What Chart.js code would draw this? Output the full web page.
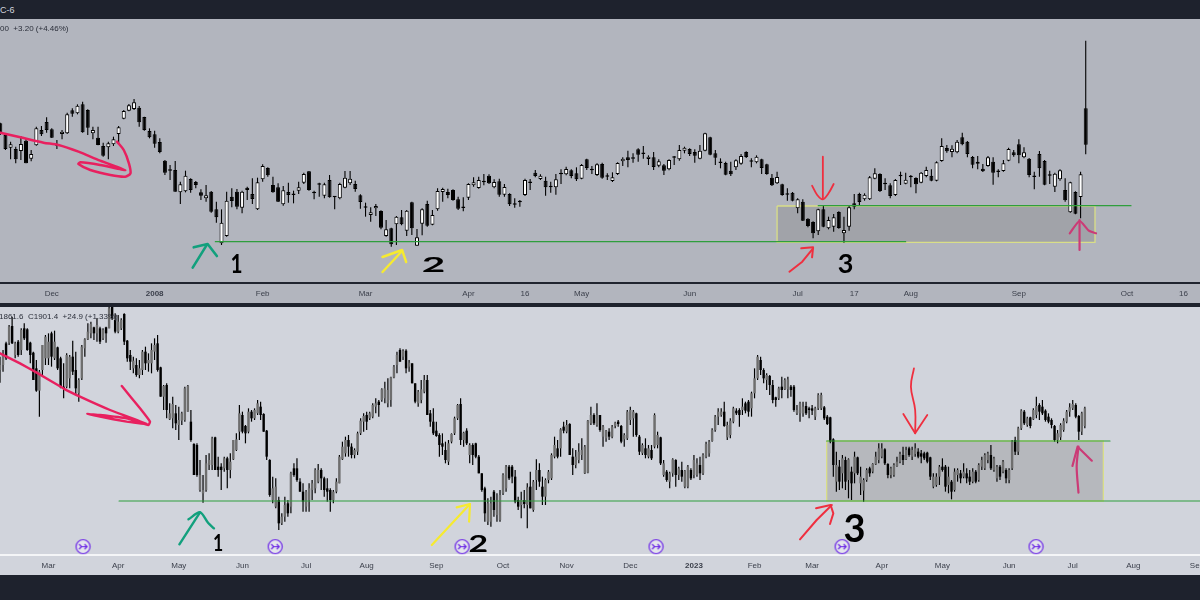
<!DOCTYPE html>
<html>
<head>
<meta charset="utf-8">
<title>Double bottom comparison</title>
<script src="https://cdn.jsdelivr.net/npm/chart.js@4/dist/chart.umd.min.js"></script>
<style>
    html, body { margin: 0; padding: 0; width: 1200px; height: 600px; overflow: hidden; background: #1e222d; }
    .panel { position: absolute; left: 0; width: 1200px; overflow: hidden; }
    #top-panel { top: 19px; height: 284px; background: #b2b5be; }
    #bottom-panel { top: 307px; height: 268px; background: #d1d4dc; }
    canvas { position: absolute; left: 0; }
    #top-chart { top: 1px; }
    #bottom-chart { top: 0; }
    .caption { position: absolute; font: 8px "Liberation Sans", sans-serif; white-space: pre; line-height: 10px; color: #2a2e39; }
</style>
</head>
<body>
<div class="caption" style="left:0;top:5px;color:#d1d4dc;font-size:9px">C-6</div>
<div class="panel" id="top-panel"><canvas id="top-chart" width="1240" height="283"></canvas></div>
<div class="panel" id="bottom-panel"><canvas id="bottom-chart" width="1240" height="268"></canvas></div>
<div class="caption" style="left:0;top:24px">00  +3.20 (+4.46%)</div>
<div class="caption" style="left:-1px;top:312px">1861.6  C1901.4  +24.9 (+1.33%)</div>
<script>
// Top chart: daily candles (no price axis visible, so relative units)
const topOpen = [
    479,444,406,402,396,427,373,413,459,483, 461,416,447,449,518,509,536,519,449,436,
    411,407,416,447,493,517,522,526,498,456, 446,423,367,338,339,272,275,312,303,272,
    254,274,221,119,141,259,274,226,286,267, 221,311,345,294,287,236,273,266,277,301,
    335,272,299,262,309,259,254,286,299,297, 263,228,204,224,216,141,164,176,197,157,
    242,112,178,237,175,221,273,273,279,251, 228,256,293,285,304,322,287,305,265,267,
    237,242,264,303,331,312,307,289,287,328, 326,338,329,313,371,340,324,357,321,306,
    327,365,377,375,401,390,372,377,352,353, 341,377,371,397,402,393,373,397,437,389,
    362,360,337,347,358,393,366,362,371,356, 316,299,296,267,271,224,244,193,183,155,
    221,164,169,213,149,169,239,267,251,251, 313,327,299,293,264,323,298,319,315,301,
    321,322,307,366,405,393,392,437,424,378, 364,343,351,364,336,336,367,392,416,377,
    373,321,387,366,324,289,311,279,212,273,258,524
];
const topHigh = [
    481,449,424,409,441,434,399,469,471,497, 464,429,459,511,524,536,544,521,469,469,
    421,424,439,471,519,537,552,531,499,464, 457,434,369,354,366,304,337,314,306,281,
    294,276,244,221,274,284,282,277,289,314, 316,356,347,319,299,291,301,277,304,331,
    336,277,301,301,324,261,301,336,336,307, 266,241,227,237,218,189,166,201,219,219,
    244,162,224,247,219,284,286,283,281,259, 257,299,317,319,327,326,311,313,297,269,
    254,249,313,312,339,326,319,304,327,341, 349,341,347,357,373,351,359,361,329,332,
    362,377,397,389,404,411,383,393,371,357, 371,381,414,409,404,401,414,451,439,399,
    374,364,364,371,387,395,374,383,373,358, 327,334,298,284,273,254,251,194,185,223,
    234,199,207,215,199,231,267,271,269,321, 344,329,314,299,312,334,331,324,317,333,
    349,341,365,434,414,413,429,451,426,381, 381,357,381,377,341,369,406,399,431,407,
    375,334,396,369,337,331,341,314,304,275,334,727
];
const topLow = [
    444,399,371,359,369,359,365,412,441,451, 435,402,431,447,499,506,451,444,431,413,
    379,371,411,419,491,515,519,469,457,434, 406,389,324,309,274,237,272,271,284,249,
    244,211,181,114,139,227,221,209,249,237, 219,304,319,271,243,232,241,239,267,297,
    277,251,259,254,256,221,251,284,294,274, 223,199,184,201,161,139,109,114,173,141,
    144,112,143,169,173,217,244,254,247,219, 215,249,289,283,293,297,284,259,259,231,
    226,229,261,279,317,309,262,271,265,297, 323,314,306,311,339,327,321,313,309,303,
    324,351,347,361,364,373,354,339,347,324, 338,354,367,389,381,361,371,395,383,354,
    344,323,321,339,355,375,347,359,327,325, 291,297,262,247,245,209,186,167,134,144,
    167,161,154,163,121,157,221,234,247,249, 311,273,279,254,261,294,296,287,269,299,
    317,305,305,364,391,377,389,413,377,344, 341,333,349,295,317,334,365,379,359,374,
    317,281,319,293,297,273,307,244,211,206,194,386
];
const topClose = [
    449,402,416,371,417,359,387,464,446,459, 436,412,454,506,508,532,452,466,459,414,
    382,419,431,467,516,533,542,482,459,437, 418,393,331,337,274,296,322,279,294,262,
    263,214,197,181,247,246,229,274,279,252, 302,351,323,272,244,278,264,264,287,327,
    279,269,295,296,257,257,297,316,313,282, 243,226,212,231,166,161,116,199,176,217,
    164,137,221,172,204,276,282,264,249,223, 225,297,302,309,302,299,303,265,288,236,
    235,247,309,300,321,322,287,287,311,326, 342,321,311,354,345,338,356,316,319,317,
    360,373,369,373,385,387,379,348,365,337, 369,376,399,406,387,382,397,449,385,376,
    360,325,326,368,381,378,364,379,345,327, 293,318,264,265,247,251,187,171,149,221,
    169,189,197,165,159,227,229,243,265,317, 329,276,296,261,309,320,310,317,296,331,
    339,307,362,411,395,403,424,416,387,355, 358,335,377,331,333,359,402,383,383,392,
    324,318,344,295,322,328,338,248,302,208,326,415
];
const topTickIndex = [10, 30, 51, 71, 91, 102, 113, 134, 155, 166, 177, 198, 219, 230];
const topTickLabels = ['Dec', '2008', 'Feb', 'Mar', 'Apr', '16', 'May', 'Jun', 'Jul', '17', 'Aug', 'Sep', 'Oct', '16'];

// Bottom chart: daily candles
const botOpen = [
    555,570,635,637,687,600,640,615,680,677, 637,607,560,493,555,590,590,665,590,623,
    590,505,505,530,595,555,485,530,620,647, 665,683,665,680,650,683,680,745,705,670,
    680,723,643,600,560,570,540,555,610,575, 575,610,635,563,475,510,407,410,425,390,
    403,405,430,400,333,330,195,185,195,270, 270,353,265,265,260,290,255,287,315,370,
    420,387,370,430,410,425,445,423,373,285, 165,145,165,95,115,155,145,260,260,220,
    190,145,165,195,200,220,255,230,200,195, 165,190,215,287,305,345,325,300,310,365,
    400,420,410,415,445,460,465,470,455,465, 533,570,615,595,613,565,575,515,455,465,
    490,525,425,400,373,360,335,315,280,340, 365,410,453,345,373,300,330,335,295,245,
    200,100,100,190,120,105,185,200,265,265, 235,165,150,165,150,205,135,225,255,205,
    175,225,230,295,320,320,385,370,393,295, 270,285,300,245,247,395,420,390,420,355,
    350,370,355,387,400,387,347,350,405,410, 425,355,305,320,295,315,325,330,353,240,
    250,220,245,285,240,255,205,205,255,240, 240,270,245,295,305,342,375,415,420,430,
    353,360,400,433,435,435,455,460,440,485, 530,585,555,525,537,510,473,470,505,497,
    497,505,505,425,425,425,447,440,440,415, 440,440,443,415,413,347,220,265,245,285,
    225,250,245,293,215,193,225,260,250,272, 285,295,317,273,240,240,267,280,300,287,
    320,295,303,310,305,305,307,293,205,210, 235,265,265,210,220,195,240,245,235,245,
    235,220,250,225,265,260,285,300,255,230, 265,250,255,225,260,345,310,380,430,390,
    413,407,420,450,445,433,415,405,387,345, 353,375,400,430,440,450,417,370,387
];
const botHigh = [
    595,615,640,690,715,640,645,680,695,680, 640,610,585,555,630,660,665,670,673,625,
    595,575,605,600,643,610,530,630,650,695, 700,685,710,685,680,685,745,745,725,720,
    710,725,645,615,595,590,585,615,625,605, 635,650,660,565,510,515,455,475,450,445,
    430,505,510,435,335,335,285,240,300,305, 355,355,295,275,295,295,305,345,365,450,
    430,390,440,435,440,465,460,425,375,287, 235,230,175,125,175,165,250,275,290,230,
    215,195,215,225,260,273,260,235,230,200, 195,230,300,340,355,360,335,320,370,410,
    425,430,430,455,470,465,500,520,530,535, 570,610,620,617,617,585,575,515,495,525,
    540,540,435,440,400,365,365,340,345,365, 415,453,470,370,380,335,335,337,300,245,
    205,170,175,195,185,195,245,270,270,270, 255,175,190,195,215,250,225,287,275,235,
    230,255,305,355,345,380,400,405,395,320, 315,335,350,330,405,445,425,455,420,390,
    375,380,390,400,405,390,365,435,445,435, 427,360,335,350,330,330,425,370,355,285,
    255,250,290,287,265,280,255,270,260,300, 290,295,305,340,345,380,420,440,440,460,
    400,410,445,440,440,470,460,465,490,560, 600,595,560,545,540,525,475,505,535,530,
    535,510,510,450,460,460,460,445,450,445, 485,487,447,420,415,350,310,285,300,295,
    290,265,310,295,265,230,260,265,275,310, 335,335,320,275,265,275,295,310,325,325,
    325,325,335,320,315,310,310,295,245,245, 270,290,270,265,225,260,260,255,275,260,
    255,260,255,275,295,305,310,330,295,270, 270,285,260,260,345,355,385,437,435,415,
    415,440,475,455,465,437,425,410,390,375, 395,410,435,455,465,455,420,430,445
];
const botLow = [
    517,550,585,630,633,590,595,600,645,613, 575,525,490,415,535,570,570,565,585,555,
    500,470,500,500,540,480,460,525,595,645, 650,645,640,633,645,637,680,705,665,665,
    675,630,580,555,545,535,530,540,555,550, 545,585,550,475,435,410,405,380,375,345,
    390,400,430,340,240,235,190,157,190,255, 255,255,235,195,250,200,230,285,312,345,
    365,335,365,400,405,420,405,370,285,175, 155,140,75,90,100,115,125,235,220,190,
    130,130,130,165,185,215,195,175,160,130, 155,185,215,285,295,295,290,290,300,360,
    370,375,405,410,425,415,460,455,443,445, 530,545,580,585,545,550,515,455,445,455,
    485,420,385,360,355,295,300,275,270,335, 360,405,330,325,330,275,270,290,245,190,
    100,90,85,115,100,100,180,190,225,215, 155,135,110,140,80,140,130,195,205,150,
    150,215,225,290,290,295,365,365,300,240, 260,275,285,243,245,390,390,385,370,325,
    340,345,350,380,385,335,325,345,390,355, 355,300,300,290,290,285,320,320,270,235,
    220,200,235,205,225,220,200,200,225,230, 235,225,240,290,295,340,370,390,415,385,
    345,350,395,420,385,420,425,415,415,470, 525,540,515,495,480,455,445,465,470,495,
    470,475,430,420,400,415,420,410,420,405, 435,435,405,390,335,235,190,195,200,195,
    170,165,215,240,180,160,220,235,245,270, 275,290,270,230,230,235,265,275,270,285,
    295,285,295,290,275,285,275,225,200,205, 210,250,190,185,167,190,220,215,230,215,
    210,215,215,220,255,255,275,255,250,220, 225,245,215,215,255,300,300,375,390,385,
    380,405,410,405,420,400,395,380,340,335, 345,370,395,415,435,410,345,360,380
];
const botClose = [
    570,600,590,685,635,635,600,675,650,615, 600,525,493,550,630,655,640,595,640,560,
    503,500,600,595,550,500,525,625,647,670, 693,665,690,640,675,665,740,710,670,700,
    705,640,590,580,583,540,560,610,575,585, 615,630,555,475,507,435,425,453,395,405,
    425,500,507,345,240,240,240,195,275,285, 350,255,255,255,290,255,280,345,347,425,
    370,365,430,410,435,455,420,370,295,180, 200,205,95,115,150,125,245,240,225,190,
    160,190,200,215,255,255,230,195,190,165, 190,220,295,325,345,325,300,315,365,403,
    417,400,425,450,455,450,497,500,495,533, 565,600,580,612,560,577,515,460,490,497,
    525,420,400,365,357,330,325,285,335,363, 410,450,345,367,335,330,300,295,245,195,
    125,155,155,135,160,180,240,265,230,235, 160,145,165,153,203,140,220,255,220,175,
    225,250,300,330,295,377,373,390,300,270, 295,310,315,325,403,420,395,420,375,385,
    373,355,385,397,393,340,360,430,435,430, 360,310,330,300,320,290,420,360,275,275,
    225,245,287,240,260,235,253,265,230,285, 275,245,300,333,340,375,415,430,430,387,
    390,403,440,425,420,445,433,430,485,530, 595,555,530,540,510,465,465,500,495,525,
    527,495,435,435,455,445,425,435,433,440, 480,480,410,393,340,270,270,220,290,220,
    287,215,295,245,235,225,255,245,273,295, 320,320,275,240,260,270,280,303,285,315,
    300,315,320,295,295,290,280,235,235,235, 265,255,205,235,190,250,255,230,250,230,
    220,250,220,270,285,300,305,260,290,265, 235,280,230,255,340,310,380,433,395,410,
    387,435,447,430,425,405,400,390,345,365, 390,403,430,443,453,415,370,425,440
];
const botTickIndex = [16, 39, 59, 80, 101, 121, 144, 166, 187, 208, 229, 249, 268, 291, 311, 333, 354, 374, 395];
const botTickLabels = ['Mar', 'Apr', 'May', 'Jun', 'Jul', 'Aug', 'Sep', 'Oct', 'Nov', 'Dec', '2023', 'Feb', 'Mar', 'Apr', 'May', 'Jun', 'Jul', 'Aug', 'Sep'];
const eventIndex = [27.4, 90.8, 152.5, 216.5, 277.9, 341.9];

// Hand drawn marks, in the same bar index / value units as the candles
const topSupport = [[41.8, 124], [176, 124]];
const topResistance = [[159, 232], [219.8, 232]];
const topBox = [[151, 231], [212.8, 231], [212.8, 122], [151, 122], [151, 231]];
const topPinkSwoosh = [[0, 451], [3.9, 437], [8.4, 421], [11.3, 414], [15.2, 394], [19.4, 367], [24.3, 339], [19.4, 354], [15.6, 362], [15.2, 357], [17.5, 339], [21.4, 324], [24.3, 319], [25.3, 329], [25, 359], [24, 399], [22.7, 424]];
const topTealArrow = [[37.4, 46], [40.2, 116]];
const topTealHead = [[37.6, 107], [40.3, 117], [42.1, 81]];
const topYellowArrow = [[74.3, 33], [78.1, 96]];
const topYellowHead = [[74.3, 78], [78.1, 99], [78.9, 63]];
const topRedUpArrow = [[153.4, 34], [155.9, 64], [158, 104]];
const topRedUpHead = [[155.7, 104], [158, 107], [157.8, 77]];
const topRedDownArrow = [[159.9, 379], [159.9, 254]];
const topRedDownHead = [[157.8, 292], [158.8, 264], [159.9, 251], [161, 269], [162, 297]];
const topPinkArrow = [[209.8, 99], [209.8, 189]];
const topPinkHead = [[207.9, 149], [209.8, 186], [211.6, 157], [213, 149]];

const botSupport = [[39.3, 162], [409, 162]];
const botResistance = [[272.8, 342], [366.3, 342]];
const botBox = [[272.8, 342], [364.1, 342], [364.1, 162], [272.8, 162], [272.8, 342]];
const botPinkSwoosh = [[0, 605], [6.6, 575], [12.1, 547], [20.9, 500], [26.4, 475], [36.3, 435], [48.4, 393], [41.8, 400], [33, 415], [28.8, 423], [33, 420], [41.8, 410], [49, 390], [49.5, 400], [46.2, 440], [40.2, 507]];
const botTealArrow = [[59.2, 32], [66, 128]];
const botTealHead = [[62.2, 107], [66, 128], [68.8, 95], [70.6, 80]];
const botYellowArrow = [[142.5, 30], [155.1, 153]];
const botYellowHead = [[150.7, 143], [155.1, 153], [154.8, 100]];
const botRedUpArrow = [[264, 47], [269.5, 105], [274.5, 150]];
const botRedUpHead = [[269.3, 140], [274.1, 150], [275, 125], [273.9, 93]];
const botRedDownArrow = [[301.6, 560], [300.6, 505], [302, 435], [302, 365]];
const botRedDownHead = [[298.1, 423], [302, 365], [306, 420]];
const botPinkArrow = [[355.9, 187], [355.3, 265], [355.9, 325]];
const botPinkHead = [[353.9, 267], [355.6, 325], [360.3, 283]];

// Handwritten digits as real text: text, bar index, value, size, horizontal stretch
const topDigits = [['1', 45.9, 55, 26, 0.8], ['2', 84.2, 52, 27, 1.5], ['3', 164.3, 56, 27, 1]];
const botDigits = [['1', 72, 34, 22, 0.8], ['2', 157.8, 31, 26, 1.3], ['3', 282, 75, 38, 1]];

const PINK = '#e8205f';
const TEAL = '#12a07d';
const YELLOW = '#f6ea30';
const RED = '#ef2f3f';
const MAUVE = '#cb3b76';
const GREEN = '#2f9e3d';

function toPoints(pairs) {
    return pairs.map((p) => ({ x: p[0], y: p[1] }));
}

// A stroke drawn over the chart
function stroke(pairs, color, width, tension) {
    return {
        type: 'line',
        data: toPoints(pairs),
        borderColor: color,
        borderWidth: width,
        borderCapStyle: 'round',
        borderJoinStyle: 'round',
        pointRadius: 0,
        tension: tension || 0,
        order: 1
    };
}

// Yellow edged grey rectangle, kept under the candles
function zoneBox(pairs) {
    return {
        type: 'line',
        data: toPoints(pairs),
        borderColor: '#d9de88',
        borderWidth: 1.3,
        backgroundColor: 'rgba(128, 128, 128, 0.33)',
        fill: 'shape',
        pointRadius: 0,
        order: 7
    };
}

// Small purple circle with arrow used for the event markers
function makeEventIcon() {
    const icon = document.createElement('canvas');
    icon.width = 17;
    icon.height = 17;
    const c = icon.getContext('2d');
    c.strokeStyle = '#6a24e6';
    c.fillStyle = '#e4e6ec';
    c.lineWidth = 1.2;
    c.beginPath();
    c.arc(8.5, 8.5, 7, 0, Math.PI * 2);
    c.fill();
    c.stroke();
    c.beginPath();
    c.moveTo(4.5, 6);
    c.lineTo(7, 8.5);
    c.lineTo(4.5, 11);
    c.moveTo(6, 8.5);
    c.lineTo(12.5, 8.5);
    c.moveTo(10, 6);
    c.lineTo(12.5, 8.5);
    c.lineTo(10, 11);
    c.stroke();
    return icon;
}

// Writes the handwritten digits at their chart position
const digitPlugin = {
    id: 'digits',
    afterDatasetsDraw(chart, args, opts) {
        const ctx = chart.ctx;
        ctx.save();
        ctx.fillStyle = '#000';
        ctx.textAlign = 'center';
        ctx.textBaseline = 'middle';
        opts.items.forEach((d) => {
            ctx.save();
            ctx.translate(chart.scales.x.getPixelForValue(d[1]), chart.scales.y.getPixelForValue(d[2]));
            ctx.scale(d[4], 1 / Math.max(d[4] * 0.85, 1));
            ctx.font = 'bold ' + d[3] + 'px "Lato", "Liberation Sans", sans-serif';
            ctx.fillText(d[0], 0, 0);
            ctx.restore();
        });
        ctx.restore();
    }
};

function buildCandleChart(canvasId, cfg) {
    const wicks = cfg.low.map((l, i) => ({ x: i, y: [l, cfg.high[i]] }));
    const bodies = cfg.open.map((o, i) => ({ x: i, y: [Math.min(o, cfg.close[i]), Math.max(o, cfg.close[i])] }));
    const bodyColors = cfg.open.map((o, i) => (cfg.close[i] >= o ? cfg.upColor : '#000000'));

    return new Chart(document.getElementById(canvasId), {
        type: 'bar',
        data: {
            datasets: cfg.marks.concat([
                {
                    data: bodies,
                    grouped: false,
                    barThickness: cfg.bodyWidth,
                    maxBarThickness: cfg.bodyWidth,
                    minBarLength: 1.5,
                    backgroundColor: bodyColors,
                    borderColor: '#000000',
                    borderWidth: cfg.bodyBorder,
                    borderSkipped: false,
                    inflateAmount: 0,
                    order: 5
                },
                {
                    data: wicks,
                    grouped: false,
                    barThickness: cfg.wickWidth,
                    maxBarThickness: cfg.wickWidth,
                    backgroundColor: '#000000',
                    borderWidth: 0,
                    inflateAmount: 0,
                    order: 6
                }
            ])
        },
        options: {
            responsive: false,
            animation: false,
            layout: { padding: 0, autoPadding: false },
            plugins: {
                legend: { display: false },
                tooltip: { enabled: false },
                digits: { items: cfg.digits }
            },
            scales: {
                x: {
                    type: 'linear',
                    offset: false,
                    min: cfg.xMin,
                    max: cfg.xMax,
                    afterBuildTicks: (axis) => {
                        axis.ticks = cfg.tickIndex.map((v) => ({ value: v }));
                    },
                    afterFit: (axis) => {
                        axis.height = 20;
                    },
                    grid: { display: false, drawTicks: false, offset: false },
                    border: { color: cfg.axisColor, width: 2 },
                    ticks: {
                        autoSkip: false,
                        maxRotation: 0,
                        minRotation: 0,
                        padding: 6,
                        color: '#3c404c',
                        font: (ctx) => ({
                            family: '"Liberation Sans", sans-serif',
                            size: 8,
                            weight: /^\d{4}$/.test(cfg.tickLabels[ctx.index]) ? 'bold' : 'normal'
                        }),
                        callback: (value, index) => cfg.tickLabels[index]
                    }
                },
                y: { display: false, min: 0, max: cfg.yMax }
            }
        },
        plugins: [digitPlugin]
    });
}

const topMarks = [
    stroke(topSupport, GREEN, 1.2),
    stroke(topResistance, GREEN, 1.2),
    zoneBox(topBox),
    stroke(topPinkSwoosh, PINK, 2.5, 0.25),
    stroke(topTealArrow, TEAL, 2.6),
    stroke(topTealHead, TEAL, 2.6),
    stroke(topYellowArrow, YELLOW, 2.4),
    stroke(topYellowHead, YELLOW, 2.4),
    stroke(topRedUpArrow, RED, 2),
    stroke(topRedUpHead, RED, 2),
    stroke(topRedDownArrow, RED, 1.8),
    stroke(topRedDownHead, RED, 1.8, 0.3),
    stroke(topPinkArrow, MAUVE, 2.2),
    stroke(topPinkHead, MAUVE, 2.2, 0.2)
];

const botMarks = [
    stroke(botSupport, GREEN, 1.2),
    stroke(botResistance, GREEN, 1.2),
    zoneBox(botBox),
    stroke(botPinkSwoosh, PINK, 2.4, 0.1),
    stroke(botTealArrow, TEAL, 2.4),
    stroke(botTealHead, TEAL, 2.4, 0.3),
    stroke(botYellowArrow, YELLOW, 2.2),
    stroke(botYellowHead, YELLOW, 2.2),
    stroke(botRedUpArrow, RED, 2),
    stroke(botRedUpHead, RED, 2),
    stroke(botRedDownArrow, RED, 1.8, 0.4),
    stroke(botRedDownHead, RED, 1.8),
    stroke(botPinkArrow, MAUVE, 2.2, 0.3),
    stroke(botPinkHead, MAUVE, 2.2),
    {
        type: 'scatter',
        data: eventIndex.map((x) => ({ x: x, y: 25 })),
        pointStyle: makeEventIcon(),
        order: 0
    }
];

buildCandleChart('top-chart', {
    open: topOpen, high: topHigh, low: topLow, close: topClose,
    upColor: '#ffffff', bodyWidth: 4, bodyBorder: 1, wickWidth: 1.1,
    xMin: -0.06, xMax: 240.99, yMax: 789,
    tickIndex: topTickIndex, tickLabels: topTickLabels,
    axisColor: '#20242f', marks: topMarks, digits: topDigits
});

buildCandleChart('bottom-chart', {
    open: botOpen, high: botHigh, low: botLow, close: botClose,
    upColor: '#6e6e6e', bodyWidth: 2.4, bodyBorder: 0, wickWidth: 1.2,
    xMin: 0, xMax: 409.2, yMax: 744,
    tickIndex: botTickIndex, tickLabels: botTickLabels,
    axisColor: '#f4f5f7', marks: botMarks, digits: botDigits
});
</script>
</body>
</html>
